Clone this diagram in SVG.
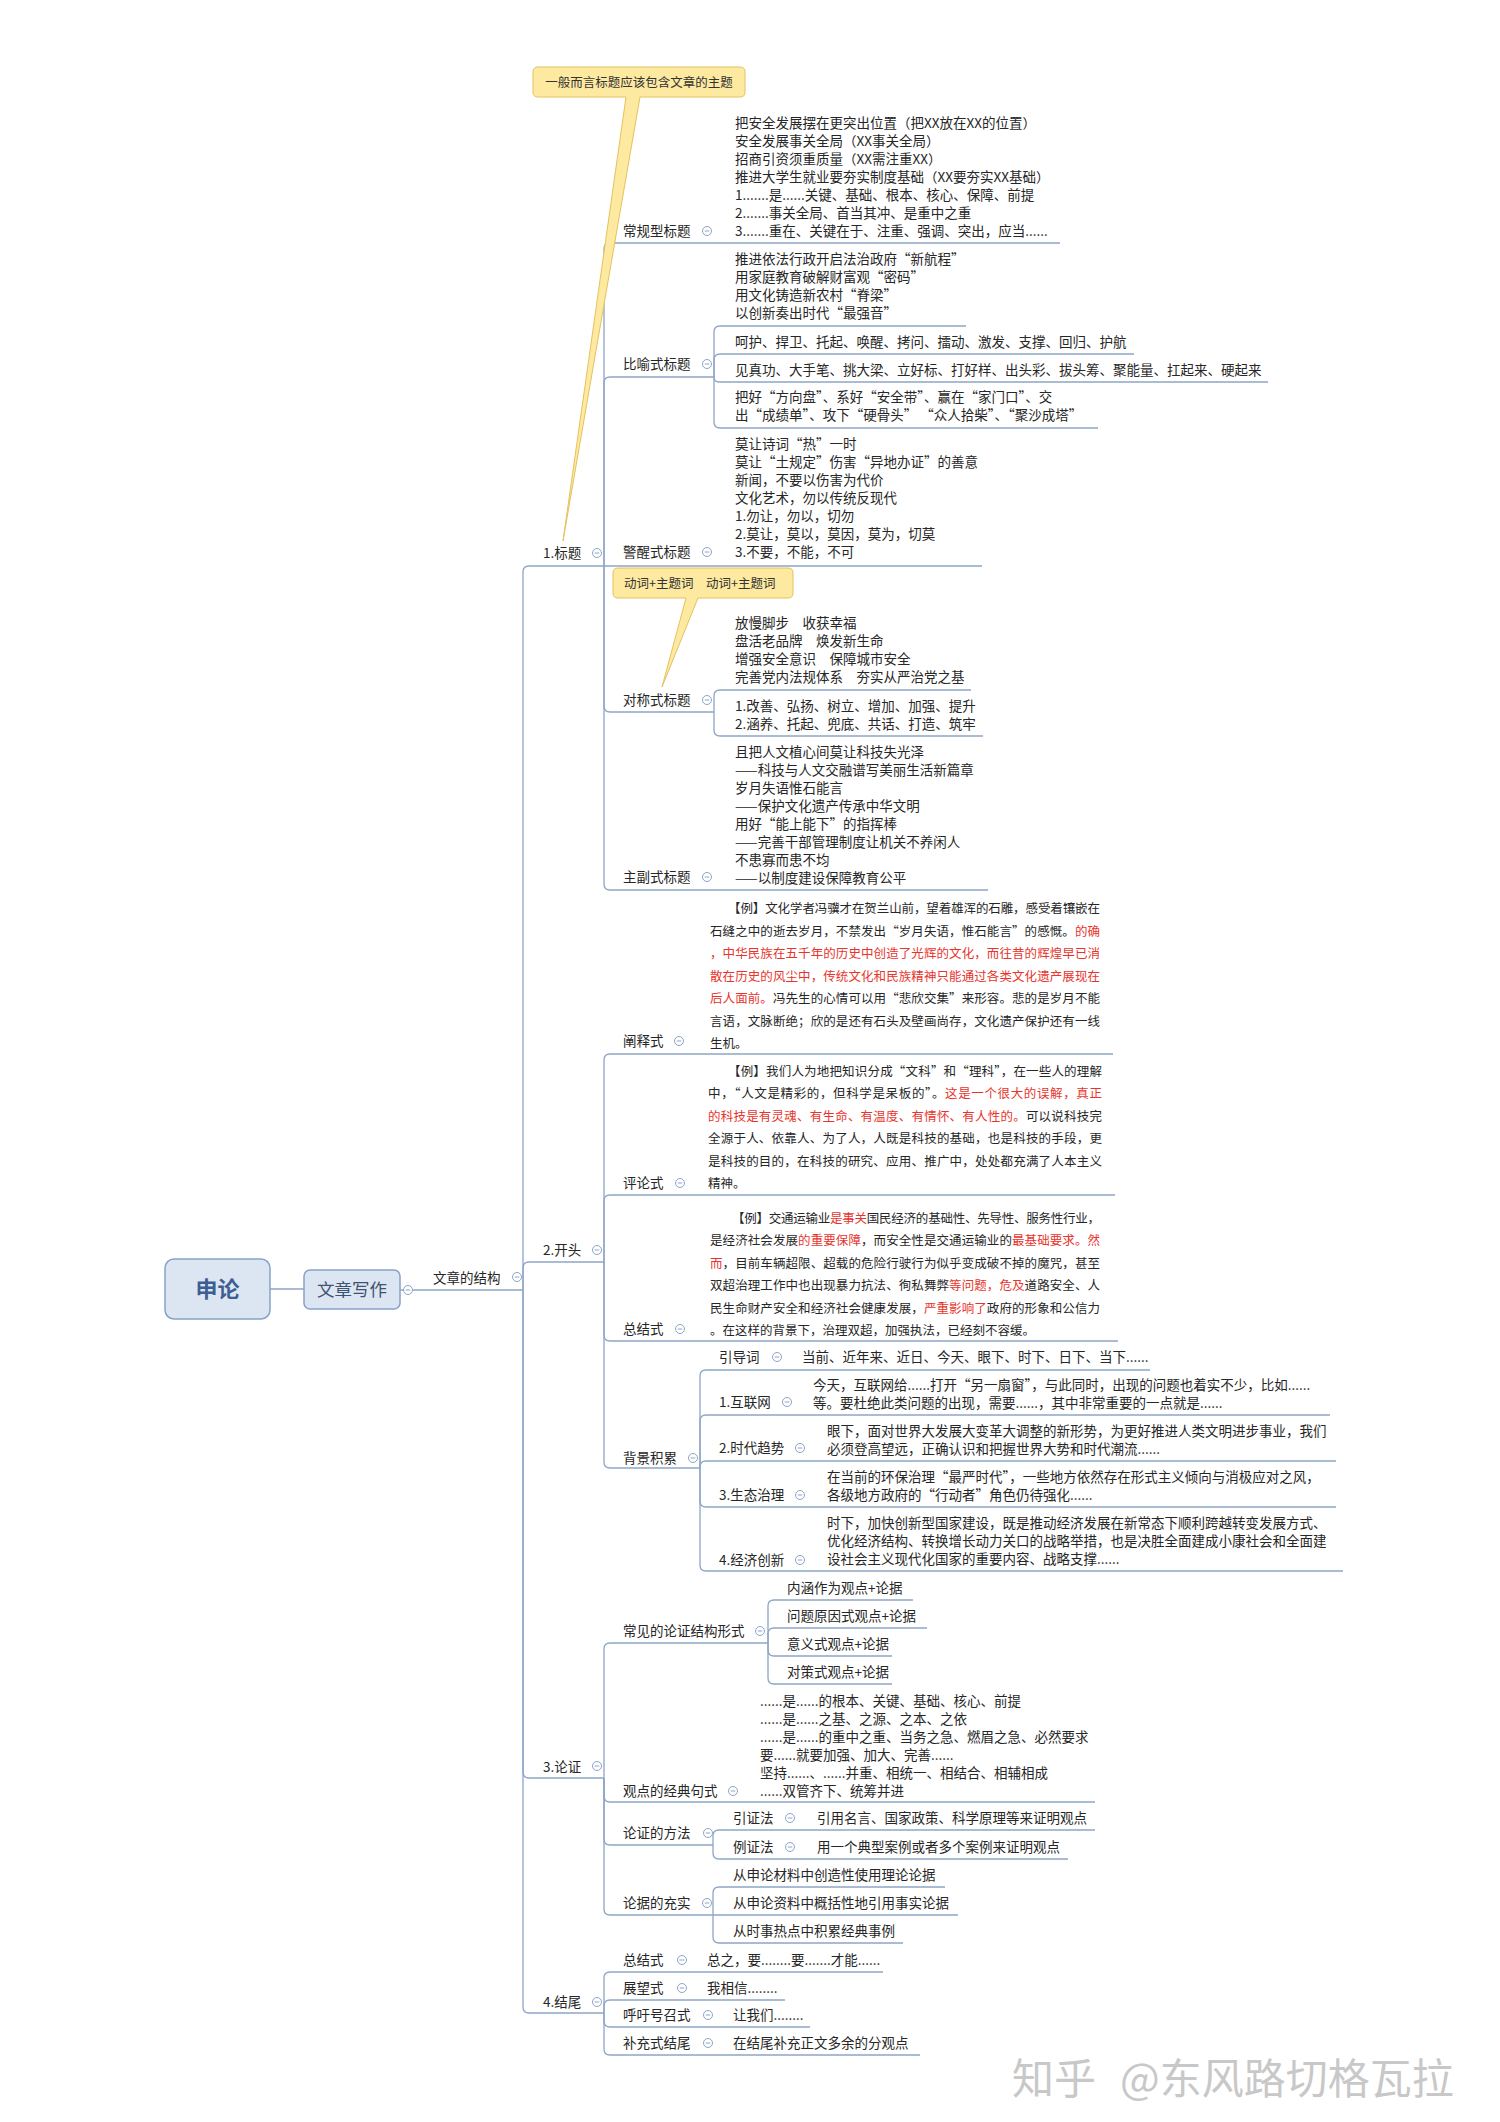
<svg xmlns="http://www.w3.org/2000/svg" width="1500" height="2122" viewBox="0 0 1500 2122">
<defs>
<style>
text{font-family:"Noto Sans CJK SC","Liberation Sans",sans-serif;fill:#262626}
.t{font-size:13.5px}
.p{font-size:12.5px}
.r{fill:#e8342c}
.ln{fill:none;stroke:#8ea5c6;stroke-width:1.3}
.co{fill:#fde9a0;stroke:#e3c25f;stroke-width:1}
.ct{font-size:12.5px;fill:#333}
.wm{font-size:42px;fill:#c8c8c8}
.box{fill:#dce6f3;stroke:#86a2c9;stroke-width:1.5}
</style>
<g id="col"><circle r="4.5" fill="#fff" stroke="#8ea5c6" stroke-width="1"/><line x1="-2.3" y1="0" x2="2.3" y2="0" stroke="#8ea5c6" stroke-width="1"/></g>
</defs>
<rect width="1500" height="2122" fill="#fff"/>

<g id="connectors" class="ln">
<path d="M270,1289 H304"/>
<path d="M400,1290 H523"/>
<path d="M523,1290 V572 Q523,566 529,566 H604"/>
<path d="M523,1290 V1268 Q523,1262 529,1262 H604"/>
<path d="M523,1290 V1772 Q523,1778 529,1778 H604"/>
<path d="M523,1290 V2007 Q523,2013 529,2013 H604"/>
<path d="M604,566 V249 Q604,243 610,243 H1060"/>
<path d="M604,566 V383 Q604,377 610,377 H714"/>
<path d="M604,566 H982"/>
<path d="M604,566 V706 Q604,712 610,712 H714"/>
<path d="M604,566 V884 Q604,890 610,890 H988"/>
<path d="M714,377 V332 Q714,326 720,326 H966"/>
<path d="M714,377 V360 Q714,354 720,354 H1134"/>
<path d="M714,377 Q714,382 719,382 H1268"/>
<path d="M714,377 V422 Q714,428 720,428 H1098"/>
<path d="M714,712 V696 Q714,690 720,690 H971"/>
<path d="M714,712 V730 Q714,736 720,736 H983"/>
<path d="M604,1262 V1060 Q604,1054 610,1054 H1113"/>
<path d="M604,1262 V1201 Q604,1195 610,1195 H1115"/>
<path d="M604,1262 V1335 Q604,1341 610,1341 H1118"/>
<path d="M604,1262 V1462 Q604,1468 610,1468 H700"/>
<path d="M700,1468 V1376 Q700,1370 706,1370 H1150"/>
<path d="M700,1468 V1421 Q700,1415 706,1415 H1330"/>
<path d="M700,1468 V1467 Q700,1461 706,1461 H1336"/>
<path d="M700,1468 V1501 Q700,1507 706,1507 H1336"/>
<path d="M700,1468 V1565 Q700,1571 706,1571 H1343"/>
<path d="M604,1778 V1649 Q604,1643 610,1643 H768"/>
<path d="M604,1778 V1796 Q604,1802 610,1802 H1095"/>
<path d="M604,1778 V1839 Q604,1845 610,1845 H713"/>
<path d="M604,1778 V1909 Q604,1915 610,1915 H713"/>
<path d="M768,1643 V1606 Q768,1600 774,1600 H913"/>
<path d="M768,1643 V1634 Q768,1628 774,1628 H927"/>
<path d="M768,1643 V1650 Q768,1656 774,1656 H892"/>
<path d="M768,1643 V1678 Q768,1684 774,1684 H892"/>
<path d="M713,1845 V1836 Q713,1830 719,1830 H1095"/>
<path d="M713,1845 V1853 Q713,1859 719,1859 H1068"/>
<path d="M713,1915 V1893 Q713,1887 719,1887 H945"/>
<path d="M713,1915 H958"/>
<path d="M713,1915 V1937 Q713,1943 719,1943 H903"/>
<path d="M604,2013 V1978 Q604,1972 610,1972 H883"/>
<path d="M604,2013 V2006 Q604,2000 610,2000 H785"/>
<path d="M604,2013 V2021 Q604,2027 610,2027 H810"/>
<path d="M604,2013 V2049 Q604,2055 610,2055 H920"/>
</g>

<g id="callout-title">
<path class="co" d="M538,67 H740 Q745,67 745,72 V92 Q745,97 740,97 H640 L563,541 L626,97 H538 Q533,97 533,92 V72 Q533,67 538,67 Z"/>
<text class="ct" x="639" y="87" text-anchor="middle">一般而言标题应该包含文章的主题</text>
</g>
<g id="callout-sym">
<path class="co" d="M618,568 H788 Q793,568 793,573 V593 Q793,598 788,598 H698 L662,687 L686,598 H618 Q613,598 613,593 V573 Q613,568 618,568 Z"/>
<text class="ct" x="624" y="588">动词+主题词　动词+主题词</text>
</g>

<g id="n-root">
<rect class="box" x="165" y="1259" width="105" height="60" rx="9"/>
<text x="217.5" y="1297" text-anchor="middle" style="font-size:22px;font-weight:bold;fill:#3d5e93">申论</text>
</g>
<g id="n-writing">
<rect class="box" x="304" y="1270" width="96" height="39" rx="6"/>
<text x="352" y="1296" text-anchor="middle" style="font-size:17.5px;fill:#3f526f">文章写作</text>
<use href="#col" x="408" y="1290"/>
</g>
<g id="n-structure">
<text class="t" x="433" y="1283">文章的结构</text>
<use href="#col" x="517" y="1277"/>
</g>

<g id="n-title">
<text class="t" x="543" y="558">1.标题</text>
<use href="#col" x="597" y="553"/>
</g>
<g id="n-open">
<text class="t" x="543" y="1255">2.开头</text>
<use href="#col" x="597" y="1250"/>
</g>
<g id="n-argue">
<text class="t" x="543" y="1772">3.论证</text>
<use href="#col" x="597" y="1766"/>
</g>
<g id="n-end">
<text class="t" x="543" y="2007">4.结尾</text>
<use href="#col" x="597" y="2002"/>
</g>

<g id="n-changgui">
<text class="t" x="623" y="236">常规型标题</text>
<use href="#col" x="707" y="231"/>
<text class="t" x="735" y="128">把安全发展摆在更突出位置（把XX放在XX的位置）</text>
<text class="t" x="735" y="146">安全发展事关全局（XX事关全局）</text>
<text class="t" x="735" y="164">招商引资须重质量（XX需注重XX）</text>
<text class="t" x="735" y="182">推进大学生就业要夯实制度基础（XX要夯实XX基础）</text>
<text class="t" x="735" y="200">1.......是......关键、基础、根本、核心、保障、前提</text>
<text class="t" x="735" y="218">2.......事关全局、首当其冲、是重中之重</text>
<text class="t" x="735" y="236">3.......重在、关键在于、注重、强调、突出，应当......</text>
</g>

<g id="n-biyu">
<text class="t" x="623" y="369">比喻式标题</text>
<use href="#col" x="707" y="364"/>
<text class="t" x="735" y="264">推进依法行政开启法治政府“新航程”</text>
<text class="t" x="735" y="282">用家庭教育破解财富观“密码”</text>
<text class="t" x="735" y="300">用文化铸造新农村“脊梁”</text>
<text class="t" x="735" y="318">以创新奏出时代“最强音”</text>
<text class="t" x="735" y="347">呵护、捍卫、托起、唤醒、拷问、擂动、激发、支撑、回归、护航</text>
<text class="t" x="735" y="375">见真功、大手笔、挑大梁、立好标、打好样、出头彩、拔头筹、聚能量、扛起来、硬起来</text>
<text class="t" x="735" y="402">把好“方向盘”、系好“安全带”、赢在“家门口”、交</text>
<text class="t" x="735" y="420">出“成绩单”、攻下“硬骨头” “众人拾柴”、“聚沙成塔”</text>
</g>

<g id="n-jingxing">
<text class="t" x="623" y="557">警醒式标题</text>
<use href="#col" x="707" y="552"/>
<text class="t" x="735" y="449">莫让诗词“热”一时</text>
<text class="t" x="735" y="467">莫让“土规定”伤害“异地办证”的善意</text>
<text class="t" x="735" y="485">新闻，不要以伤害为代价</text>
<text class="t" x="735" y="503">文化艺术，勿以传统反现代</text>
<text class="t" x="735" y="521">1.勿让，勿以，切勿</text>
<text class="t" x="735" y="539">2.莫让，莫以，莫因，莫为，切莫</text>
<text class="t" x="735" y="557">3.不要，不能，不可</text>
</g>

<g id="n-duichen">
<text class="t" x="623" y="705">对称式标题</text>
<use href="#col" x="707" y="700"/>
<text class="t" x="735" y="628">放慢脚步　收获幸福</text>
<text class="t" x="735" y="646">盘活老品牌　焕发新生命</text>
<text class="t" x="735" y="664">增强安全意识　保障城市安全</text>
<text class="t" x="735" y="682">完善党内法规体系　夯实从严治党之基</text>
<text class="t" x="735" y="711">1.改善、弘扬、树立、增加、加强、提升</text>
<text class="t" x="735" y="729">2.涵养、托起、兜底、共话、打造、筑牢</text>
</g>

<g id="n-zhufu">
<text class="t" x="623" y="882">主副式标题</text>
<use href="#col" x="707" y="877"/>
<text class="t" x="735" y="757">且把人文植心间莫让科技失光泽</text>
<text class="t" x="735" y="775">——科技与人文交融谱写美丽生活新篇章</text>
<text class="t" x="735" y="793">岁月失语惟石能言</text>
<text class="t" x="735" y="811">——保护文化遗产传承中华文明</text>
<text class="t" x="735" y="829">用好“能上能下”的指挥棒</text>
<text class="t" x="735" y="847">——完善干部管理制度让机关不养闲人</text>
<text class="t" x="735" y="865">不患寡而患不均</text>
<text class="t" x="735" y="883">——以制度建设保障教育公平</text>
</g>

<g id="n-chanshi">
<text class="t" x="623" y="1046">阐释式</text>
<use href="#col" x="679" y="1041"/>
<text class="p" x="728" y="913" textLength="372" lengthAdjust="spacing">【例】文化学者冯骥才在贺兰山前，望着雄浑的石雕，感受着镶嵌在</text>
<text class="p" x="710" y="935.5" textLength="390" lengthAdjust="spacing">石缝之中的逝去岁月，不禁发出“岁月失语，惟石能言”的感慨。<tspan class="r">的确</tspan></text>
<text class="p r" x="710" y="958" textLength="390" lengthAdjust="spacing">，中华民族在五千年的历史中创造了光辉的文化，而往昔的辉煌早已消</text>
<text class="p r" x="710" y="980.5" textLength="390" lengthAdjust="spacing">散在历史的风尘中，传统文化和民族精神只能通过各类文化遗产展现在</text>
<text class="p" x="710" y="1003" textLength="390" lengthAdjust="spacing"><tspan class="r">后人面前。</tspan>冯先生的心情可以用“悲欣交集”来形容。悲的是岁月不能</text>
<text class="p" x="710" y="1025.5" textLength="390" lengthAdjust="spacing">言语，文脉断绝；欣的是还有石头及壁画尚存，文化遗产保护还有一线</text>
<text class="p" x="710" y="1048">生机。</text>
</g>

<g id="n-pinglun">
<text class="t" x="623" y="1188">评论式</text>
<use href="#col" x="680" y="1183"/>
<text class="p" x="728" y="1075.5" textLength="374" lengthAdjust="spacing">【例】我们人为地把知识分成“文科”和“理科”，在一些人的理解</text>
<text class="p" x="708" y="1098" textLength="394" lengthAdjust="spacing">中，“人文是精彩的，但科学是呆板的”。<tspan class="r">这是一个很大的误解，真正</tspan></text>
<text class="p" x="708" y="1120.5" textLength="394" lengthAdjust="spacing"><tspan class="r">的科技是有灵魂、有生命、有温度、有情怀、有人性的。</tspan>可以说科技完</text>
<text class="p" x="708" y="1143" textLength="394" lengthAdjust="spacing">全源于人、依靠人、为了人，人既是科技的基础，也是科技的手段，更</text>
<text class="p" x="708" y="1165.5" textLength="394" lengthAdjust="spacing">是科技的目的，在科技的研究、应用、推广中，处处都充满了人本主义</text>
<text class="p" x="708" y="1188">精神。</text>
</g>

<g id="n-zongjie-open">
<text class="t" x="623" y="1334">总结式</text>
<use href="#col" x="680" y="1329"/>
<text class="p" x="732" y="1222.5" textLength="368" lengthAdjust="spacing">【例】交通运输业<tspan class="r">是事关</tspan>国民经济的基础性、先导性、服务性行业，</text>
<text class="p" x="710" y="1245" textLength="390" lengthAdjust="spacing">是经济社会发展<tspan class="r">的重要保障</tspan>，而安全性是交通运输业的<tspan class="r">最基础要求。然</tspan></text>
<text class="p" x="710" y="1267.5" textLength="390" lengthAdjust="spacing"><tspan class="r">而</tspan>，目前车辆超限、超载的危险行驶行为似乎变成破不掉的魔咒，甚至</text>
<text class="p" x="710" y="1290" textLength="390" lengthAdjust="spacing">双超治理工作中也出现暴力抗法、徇私舞弊<tspan class="r">等问题，危及</tspan>道路安全、人</text>
<text class="p" x="710" y="1312.5" textLength="390" lengthAdjust="spacing">民生命财产安全和经济社会健康发展，<tspan class="r">严重影响了</tspan>政府的形象和公信力</text>
<text class="p" x="710" y="1335">。在这样的背景下，治理双超，加强执法，已经刻不容缓。</text>
</g>

<g id="n-beijing">
<text class="t" x="623" y="1463">背景积累</text>
<use href="#col" x="693" y="1458"/>
</g>
<g id="n-yindao">
<text class="t" x="719" y="1362">引导词</text>
<use href="#col" x="777" y="1357"/>
<text class="t" x="802" y="1362">当前、近年来、近日、今天、眼下、时下、日下、当下......</text>
</g>
<g id="n-hulianwang">
<text class="t" x="719" y="1407">1.互联网</text>
<use href="#col" x="787" y="1402"/>
<text class="t" x="813" y="1390">今天，互联网给......打开“另一扇窗”，与此同时，出现的问题也着实不少，比如......</text>
<text class="t" x="813" y="1408">等。要杜绝此类问题的出现，需要......，其中非常重要的一点就是......</text>
</g>
<g id="n-shidai">
<text class="t" x="719" y="1453">2.时代趋势</text>
<use href="#col" x="800" y="1448"/>
<text class="t" x="827" y="1436">眼下，面对世界大发展大变革大调整的新形势，为更好推进人类文明进步事业，我们</text>
<text class="t" x="827" y="1454">必须登高望远，正确认识和把握世界大势和时代潮流......</text>
</g>
<g id="n-shengtai">
<text class="t" x="719" y="1500">3.生态治理</text>
<use href="#col" x="800" y="1495"/>
<text class="t" x="827" y="1482">在当前的环保治理“最严时代”，一些地方依然存在形式主义倾向与消极应对之风，</text>
<text class="t" x="827" y="1500">各级地方政府的“行动者”角色仍待强化......</text>
</g>
<g id="n-jingji">
<text class="t" x="719" y="1565">4.经济创新</text>
<use href="#col" x="800" y="1560"/>
<text class="t" x="827" y="1528">时下，加快创新型国家建设，既是推动经济发展在新常态下顺利跨越转变发展方式、</text>
<text class="t" x="827" y="1546">优化经济结构、转换增长动力关口的战略举措，也是决胜全面建成小康社会和全面建</text>
<text class="t" x="827" y="1564">设社会主义现代化国家的重要内容、战略支撑......</text>
</g>

<g id="n-jiegou">
<text class="t" x="623" y="1636">常见的论证结构形式</text>
<use href="#col" x="760" y="1631"/>
<text class="t" x="787" y="1593">内涵作为观点+论据</text>
<text class="t" x="787" y="1621">问题原因式观点+论据</text>
<text class="t" x="787" y="1649">意义式观点+论据</text>
<text class="t" x="787" y="1677">对策式观点+论据</text>
</g>
<g id="n-jushi">
<text class="t" x="623" y="1796">观点的经典句式</text>
<use href="#col" x="733" y="1791"/>
<text class="t" x="760" y="1706">......是......的根本、关键、基础、核心、前提</text>
<text class="t" x="760" y="1724">......是......之基、之源、之本、之依</text>
<text class="t" x="760" y="1742">......是......的重中之重、当务之急、燃眉之急、必然要求</text>
<text class="t" x="760" y="1760">要......就要加强、加大、完善......</text>
<text class="t" x="760" y="1778">坚持......、......并重、相统一、相结合、相辅相成</text>
<text class="t" x="760" y="1796">......双管齐下、统筹并进</text>
</g>
<g id="n-fangfa">
<text class="t" x="623" y="1838">论证的方法</text>
<use href="#col" x="708" y="1833"/>
</g>
<g id="n-yinzheng">
<text class="t" x="733" y="1823">引证法</text>
<use href="#col" x="790" y="1818"/>
<text class="t" x="817" y="1823">引用名言、国家政策、科学原理等来证明观点</text>
</g>
<g id="n-lizheng">
<text class="t" x="733" y="1852">例证法</text>
<use href="#col" x="790" y="1847"/>
<text class="t" x="817" y="1852">用一个典型案例或者多个案例来证明观点</text>
</g>
<g id="n-chongshi">
<text class="t" x="623" y="1908">论据的充实</text>
<use href="#col" x="707" y="1903"/>
<text class="t" x="733" y="1880">从申论材料中创造性使用理论论据</text>
<text class="t" x="733" y="1908">从申论资料中概括性地引用事实论据</text>
<text class="t" x="733" y="1936">从时事热点中积累经典事例</text>
</g>

<g id="n-zongjie-end">
<text class="t" x="623" y="1965">总结式</text>
<use href="#col" x="682" y="1960"/>
<text class="t" x="707" y="1965">总之，要........要.......才能......</text>
</g>
<g id="n-zhanwang">
<text class="t" x="623" y="1993">展望式</text>
<use href="#col" x="682" y="1988"/>
<text class="t" x="707" y="1993">我相信........</text>
</g>
<g id="n-huyu">
<text class="t" x="623" y="2020">呼吁号召式</text>
<use href="#col" x="708" y="2015"/>
<text class="t" x="733" y="2020">让我们........</text>
</g>
<g id="n-buchong">
<text class="t" x="623" y="2048">补充式结尾</text>
<use href="#col" x="708" y="2043"/>
<text class="t" x="733" y="2048">在结尾补充正文多余的分观点</text>
</g>

<g id="watermark">
<text class="wm" x="1012" y="2094">知乎<tspan x="1120">@东风路切格瓦拉</tspan></text>
</g>
</svg>
